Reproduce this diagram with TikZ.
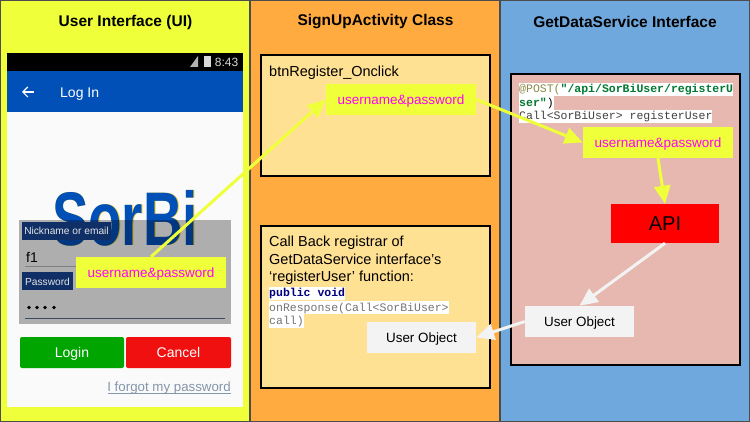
\documentclass[tikz,border=0pt]{standalone}
\usepackage{fontspec}
\setmainfont{Liberation Sans}
\setmonofont{Liberation Mono}
\usepackage{tikz}
\usetikzlibrary{arrows.meta, positioning}
\definecolor{uiyellow}{HTML}{EFFF3A}
\definecolor{classorange}{HTML}{FFAB40}
\definecolor{ifaceblue}{HTML}{6FA8DC}
\definecolor{boxcream}{HTML}{FFE194}
\definecolor{boxrose}{HTML}{E6B8AF}
\definecolor{barblue}{HTML}{0050B8}
\definecolor{objgray}{HTML}{F3F3F3}
\definecolor{labelmagenta}{HTML}{FF00FF}
\definecolor{fieldnavy}{HTML}{0F2F66}
\definecolor{fieldslate}{HTML}{3B4A5C}
\definecolor{linkgray}{HTML}{8496AB}
\definecolor{logingreen}{HTML}{00A500}
\definecolor{cancelred}{HTML}{F01010}
\definecolor{purered}{HTML}{FF0000}
\definecolor{codenavy}{HTML}{000080}
\definecolor{codegreen}{HTML}{007A33}
\definecolor{codeolive}{HTML}{8A8A4A}
\newcommand{\pxfont}[1]{\fontsize{#1}{#1}\selectfont}

\begin{document}
\begin{tikzpicture}[
    x=1pt, y=-1pt,
    panel/.style={draw=black!70, line width=0.8pt, minimum width=249pt, minimum height=421pt, inner sep=0},
    title/.style={font=\bfseries\pxfont{15.5}},
    holder/.style={draw=black, line width=1.4pt, fill=#1, minimum width=229pt, inner sep=0},
    databox/.style={fill=uiyellow, text=labelmagenta, font=\pxfont{13.5}, text height=11pt, text depth=0pt, minimum width=150pt, minimum height=31pt, inner sep=0},
    objbox/.style={fill=objgray, font=\pxfont{13.4}, text height=10pt, text depth=0pt, minimum width=109pt, minimum height=31pt, inner sep=0},
    codeline/.style={fill=white, anchor=west, inner sep=0, text height=10pt, text depth=3pt, minimum height=13.5pt, font=\ttfamily\pxfont{11.5}},
    uibtn/.style={rounded corners=2pt, text=white, font=\pxfont{14}, text height=10pt, text depth=0pt, minimum width=104pt, minimum height=31pt, inner sep=0},
    fieldtag/.style={fill=fieldnavy, text=white!90!black, font=\pxfont{10.2}, minimum height=18pt, inner sep=0},
    flow/.style={-{Triangle[length=18pt, width=16pt]}, line width=3pt, color=#1}
]
    \useasboundingbox (0,0) rectangle (750,422);

    % columns
    \node[panel, fill=uiyellow] (uipanel) at (125,211) {};
    \node[panel, fill=classorange] (classpanel) at (375,211) {};
    \node[panel, fill=ifaceblue] (ifacepanel) at (625,211) {};
    \node[title] (uititle) at (125.5,22) {User Interface (UI)};
    \node[title] (classtitle) at (375.5,22) {SignUpActivity Class};
    \node[title] (ifacetitle) at (625,22) {GetDataService Interface};

    % phone screen
    \node[fill=white!98!black, minimum width=236pt, minimum height=354pt, inner sep=0] (screen) at (125,230) {};
    \node[fill=black, minimum width=236pt, minimum height=18pt, inner sep=0] (statusbar) at (125,62) {};
    \node[fill=barblue, minimum width=236pt, minimum height=41pt, inner sep=0] (appbar) at (125,91.5) {};
    \node[text=white!85!black, font=\pxfont{12}, anchor=east, inner sep=0] (clock) at (238.5,62) {8:43};
    \node[fill=white!85!black, minimum width=7pt, minimum height=11pt, inner sep=0] (battery) at (207.5,62) {};
    \fill[white!70!black] (190,67) -- (198,56) -- (198,67) -- cycle;
    \node[text=white, font=\pxfont{14}, anchor=west, inner sep=0] (logintext) at (60,94) {Log In};
    \coordinate (backtip) at (22,92);
    \coordinate (backend) at (34,92);
    \draw[white, line width=1.2pt, -{Straight Barb[length=5pt, width=10pt]}] (backend) -- (backtip);

    % logo and form
    \node[text=uiyellow!60!orange, font=\bfseries\pxfont{76}] (logoback) at (125.8,218.5) {\scalebox{0.72}[1]{SorBi}};
    \node[text=barblue, font=\bfseries\pxfont{76}] (logo) at (125,218) {\scalebox{0.72}[1]{SorBi}};
    \node[fill=black, fill opacity=0.3, minimum width=212pt, minimum height=104pt, inner sep=0] (form) at (125,272) {};
    \node[fieldtag, minimum width=89pt] (nickname) at (66.5,231) {Nickname or email};
    \node[font=\pxfont{14}, anchor=west, inner sep=0] (nickvalue) at (26,257) {f1};
    \draw[black!50, line width=1pt] (25,267) -- (225,267);
    \node[fieldtag, minimum width=51pt] (passlabel) at (47.5,281.5) {Password};
    \foreach \dotx in {29,37,45,54} \fill[black] (\dotx,307.5) circle (1.8pt);
    \draw[fieldslate, line width=1pt] (25,318) -- (225,318);
    \node[uibtn, fill=logingreen] (loginbtn) at (72,352.5) {Login};
    \node[uibtn, fill=cancelred, minimum width=105pt] (cancelbtn) at (178.5,352.5) {Cancel};
    \node[text=linkgray, font=\pxfont{13.3}, anchor=east, inner sep=0] (forgot) at (231,388) {I forgot my password};
    \draw[linkgray, line width=0.8pt] (108,393) -- (231,393);

    % class boxes
    \node[holder=boxcream, minimum height=121pt] (clickbox) at (375.5,115.5) {};
    \node[holder=boxcream, minimum height=162pt] (callbackbox) at (375.5,307) {};
    \node[font=\pxfont{14.5}, anchor=west, inner sep=0] (clicktext) at (269,72.5) {btnRegister\_Onclick};
    \node[font=\pxfont{14.5}, anchor=north west, align=left, inner sep=0] (callbacktext) at (269,235.5) {Call Back registrar of\\[3.3pt]GetDataService interface’s\\[3.3pt]‘registerUser’ function:};
    \node[codeline, text=codenavy, font=\ttfamily\bfseries\pxfont{11.5}] (pubvoid) at (269,293.5) {public void};
    \node[codeline, text=black!55] (onresp) at (269,307.5) {onResponse(Call<SorBiUser>};
    \node[codeline, text=black!55] (callarg) at (269,321) {call)};

    % interface box
    \node[holder=boxrose, minimum height=291pt] (ifacebox) at (625.5,219.5) {};
    \node[codeline, text=codeolive] (postline) at (519,89.5) {@POST(\textcolor{codegreen}{\textbf{"/api/SorBiUser/registerU}}};
    \node[codeline, text=codegreen, font=\ttfamily\bfseries\pxfont{11.5}] (serline) at (519,103) {ser"\textcolor{black}{\textmd{)}}};
    \node[codeline, text=black!75] (callline) at (519,116.5) {Call<SorBiUser> registerUser};

    % data boxes
    \node[databox] (userdata) at (151,272.5) {username\&password};
    \node[databox] (clickdata) at (401,99.5) {username\&password};
    \node[databox] (ifacedata) at (658,142.5) {username\&password};
    \node[fill=purered, font=\pxfont{20}, text height=15pt, text depth=0pt, minimum width=108pt, minimum height=39pt, inner sep=0] (api) at (665,223.5) {API};
    \node[objbox] (objright) at (579.5,321.5) {User Object};
    \node[objbox] (objleft) at (421.5,337.5) {User Object};

    \draw[flow=uiyellow] (userdata.north) -- (clickdata.west);
    \draw[flow=uiyellow] (clickdata.east) -- (ifacedata.west);
    \draw[flow=uiyellow] (ifacedata.south) -- (api.north);
    \draw[flow=objgray] (api.south) -- (objright.north);
    \draw[flow=objgray] (objright.west) -- (objleft.east);
\end{tikzpicture}
\end{document}
